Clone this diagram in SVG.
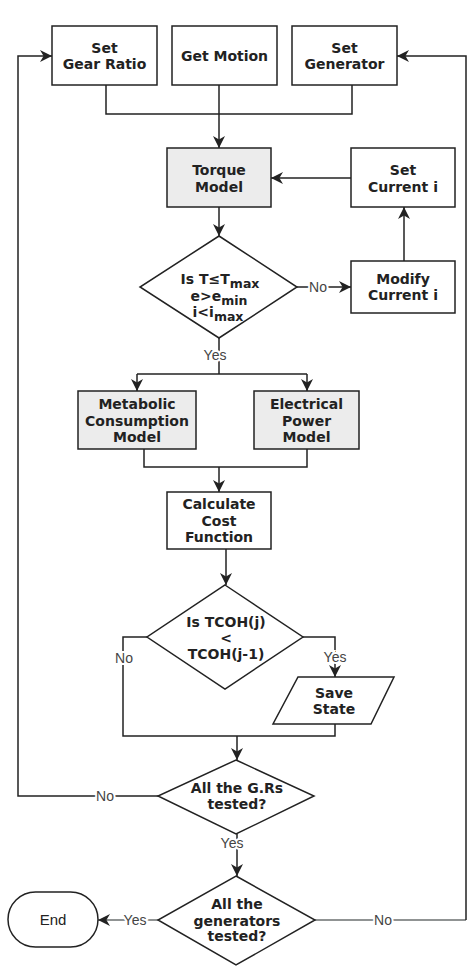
<svg xmlns="http://www.w3.org/2000/svg" width="474" height="980" viewBox="0 0 474 980">
<style>
.box{fill:#fff;stroke:#222;stroke-width:1.5}
.gray{fill:#ececec}
.t{font-family:"DejaVu Sans",Verdana,sans-serif;font-weight:bold;font-size:14px;fill:#222;text-anchor:middle}
.sub{font-size:12.5px}
.lbl{font-family:"Liberation Sans",Arial,sans-serif;font-size:14px;fill:#444;text-anchor:middle;stroke:#fff;stroke-width:4px;paint-order:stroke}
.c{fill:none;stroke:#222;stroke-width:1.5}
.cg{fill:none;stroke:#6b6f6f;stroke-width:1.5}
</style>
<defs>
<marker id="a" markerUnits="userSpaceOnUse" markerWidth="12" markerHeight="12" viewBox="0 0 10 10" refX="10" refY="5" orient="auto">
<path d="M0,0 L10,5 L0,10 L3,5 z" fill="#222"/>
</marker>
</defs>
<rect width="474" height="980" fill="#fff"/>
<g id="connectors">
<path class="c" d="M106,85 V114 H352 V85"/>
<path class="c" d="M219,85 V148" marker-end="url(#a)"/>
<path class="c" d="M351,178 H271" marker-end="url(#a)"/>
<path class="c" d="M404,261 V207" marker-end="url(#a)"/>
<path class="c" d="M219,207 V236" marker-end="url(#a)"/>
<path class="c" d="M297,287 H351" marker-end="url(#a)"/>
<path class="c" d="M219,338 V374"/>
<path class="c" d="M137,374 H307"/>
<path class="c" d="M137,374 V391" marker-end="url(#a)"/>
<path class="c" d="M307,374 V391" marker-end="url(#a)"/>
<path class="c" d="M144,449 V467 H307 V449"/>
<path class="c" d="M219,467 V492" marker-end="url(#a)"/>
<path class="c" d="M226,549 V585" marker-end="url(#a)"/>
<path class="c" d="M147,637 H123 V736 H335 V724"/>
<path class="c" d="M303,637 H335 V677" marker-end="url(#a)"/>
<path class="c" d="M237,736 V760" marker-end="url(#a)"/>
<path class="c" d="M158,796 H18 V56 H52" marker-end="url(#a)"/>
<path class="c" d="M237,834 V876" marker-end="url(#a)"/>
<path class="cg" d="M158,920 H98" marker-end="url(#a)"/>
<path class="cg" d="M315,920 H466"/>
<path class="c" d="M466,920 V56 H397" marker-end="url(#a)"/>
<text class="lbl" x="318" y="292">No</text>
<text class="lbl" x="215" y="360">Yes</text>
<text class="lbl" x="124" y="663">No</text>
<text class="lbl" x="335" y="662">Yes</text>
<text class="lbl" x="105" y="801">No</text>
<text class="lbl" x="232" y="848">Yes</text>
<text class="lbl" x="135" y="925">Yes</text>
<text class="lbl" x="383" y="925">No</text>
</g>
<g id="set-gear-ratio">
<rect class="box" x="52" y="26" width="105" height="59"/>
<text class="t" x="104.5" y="53">Set</text>
<text class="t" x="104.5" y="69">Gear Ratio</text>
</g>
<g id="get-motion">
<rect class="box" x="172" y="26" width="105" height="59"/>
<text class="t" x="224.5" y="61">Get Motion</text>
</g>
<g id="set-generator">
<rect class="box" x="292" y="26" width="105" height="59"/>
<text class="t" x="344.5" y="53">Set</text>
<text class="t" x="344.5" y="69">Generator</text>
</g>
<g id="torque-model">
<rect class="box gray" x="167" y="148" width="104" height="59"/>
<text class="t" x="219" y="175">Torque</text>
<text class="t" x="219" y="192">Model</text>
</g>
<g id="set-current">
<rect class="box" x="351" y="148" width="104" height="59"/>
<text class="t" x="403" y="175">Set</text>
<text class="t" x="403" y="192">Current i</text>
</g>
<g id="check-limits">
<polygon class="box" points="219,236 297,287 219,338 140,287"/>
<text class="t" x="220" y="284">Is T≤T<tspan class="sub" dy="4">max</tspan></text>
<text class="t" x="219" y="301">e&gt;e<tspan class="sub" dy="4">min</tspan></text>
<text class="t" x="218" y="317">i&lt;i<tspan class="sub" dy="4">max</tspan></text>
</g>
<g id="modify-current">
<rect class="box" x="351" y="261" width="104" height="52"/>
<text class="t" x="403" y="284">Modify</text>
<text class="t" x="403" y="300">Current i</text>
</g>
<g id="metabolic">
<rect class="box gray" x="78" y="391" width="118" height="58"/>
<text class="t" x="137" y="409">Metabolic</text>
<text class="t" x="137" y="426">Consumption</text>
<text class="t" x="137" y="442">Model</text>
</g>
<g id="electrical">
<rect class="box gray" x="254" y="391" width="105" height="58"/>
<text class="t" x="306.5" y="409">Electrical</text>
<text class="t" x="306.5" y="426">Power</text>
<text class="t" x="306.5" y="442">Model</text>
</g>
<g id="cost-function">
<rect class="box" x="167" y="492" width="104" height="57"/>
<text class="t" x="219" y="509">Calculate</text>
<text class="t" x="219" y="526">Cost</text>
<text class="t" x="219" y="542">Function</text>
</g>
<g id="tcoh-check">
<polygon class="box" points="225,585 303,637 225,689 147,637"/>
<text class="t" x="226" y="627">Is TCOH(j)</text>
<text class="t" x="226" y="643">&lt;</text>
<text class="t" x="226" y="659">TCOH(j-1)</text>
</g>
<g id="save-state">
<polygon class="box" points="298,677 394,677 371,724 273,724"/>
<text class="t" x="334" y="698">Save</text>
<text class="t" x="334" y="714">State</text>
</g>
<g id="grs-tested">
<polygon class="box" points="236,760 314,796 236,834 158,796"/>
<text class="t" x="237" y="793">All the G.Rs</text>
<text class="t" x="237" y="809">tested?</text>
</g>
<g id="generators-tested">
<polygon class="box" points="236,876 315,920 236,965 158,920"/>
<text class="t" x="237" y="909">All the</text>
<text class="t" x="237" y="926">generators</text>
<text class="t" x="237" y="941">tested?</text>
</g>
<g id="end">
<rect class="box" x="8" y="892" width="90" height="55" rx="27.5"/>
<text x="53" y="925" style="font-family:'Liberation Sans',Arial,sans-serif;font-size:15px;fill:#222;text-anchor:middle">End</text>
</g>
</svg>
